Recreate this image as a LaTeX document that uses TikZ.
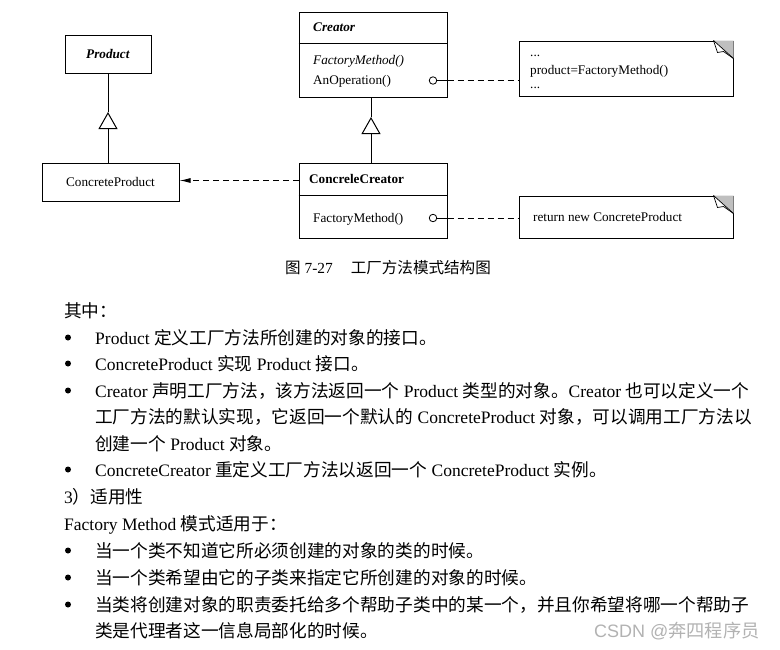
\documentclass[tikz,border=0pt]{standalone}
\usepackage{fontspec}
\setmainfont{Liberation Serif}
\newfontfamily\cjk[Scale=1.01]{Noto Sans CJK SC}
\newfontfamily\wmsans{Liberation Sans}
\newcommand\zh[1]{{\cjk #1}}
\usetikzlibrary{arrows.meta}
\tikzset{
  umlbox/.style={draw,line width=1pt,inner sep=0pt,font=\fontsize{13.2}{15}\selectfont},
  notebox/.style={draw,line width=1pt,inner sep=0pt,minimum width=214pt},
  umltext/.style={anchor=base west,inner sep=0pt,font=\fontsize{13.2}{15}\selectfont},
  bodytext/.style={anchor=base west,inner sep=0pt,font=\fontsize{17.5}{20}\selectfont},
  bulletdot/.style={circle,fill,inner sep=0pt,minimum size=6pt},
  inherit/.style={line width=1pt,-{Triangle[open,length=17pt,width=19pt,line width=1pt]}},
  depend/.style={line width=1pt,dash pattern=on 6pt off 4pt,-{Latex[length=11pt,width=5pt]}},
  notelink/.style={line width=1pt,dash pattern=on 6pt off 4pt},
  lollipop/.style={draw,circle,fill=white,line width=0.8pt,minimum size=7.5pt,inner sep=0pt},
}
\begin{document}
\begin{tikzpicture}[x=1pt,y=-1pt]
\useasboundingbox (0,0) rectangle (780,649);
% class boxes
\node[umlbox,minimum width=86pt,minimum height=38pt] (product) at (108,54) {\textbf{\textit{Product}}};
\node[umlbox,minimum width=137pt,minimum height=38pt] (cprod) at (110.5,182) {ConcreteProduct};
\node[umlbox,minimum width=148pt,minimum height=85pt] (creator) at (373,54.5) {};
\node[umlbox,minimum width=148pt,minimum height=75pt] (ccreator) at (373,200.5) {};
\draw[line width=1pt] (creator.north west) ++(0,32) -- ++(148,0);
\draw[line width=1pt] (ccreator.north west) ++(0,33) -- ++(148,0);
\node[umltext] (creatorname) at (313,31.5) {\textbf{\textit{Creator}}};
\node[umltext] (fmabs) at (313,64.5) {\textit{FactoryMethod()}};
\node[umltext] (anop) at (313,84.5) {AnOperation()};
\node[umltext] (ccname) at (309,183.5) {\textbf{ConcreleCreator}};
\node[umltext] (fmconc) at (313,222.5) {FactoryMethod()};
% inheritance
\coordinate (ptip) at (108,112);
\coordinate (ctip) at (371,117);
\draw[inherit] (ptip |- cprod.north) -- (ptip);
\draw[line width=1pt] (ptip) -- (ptip |- product.south);
\draw[inherit] (ctip |- ccreator.north) -- (ctip);
\draw[line width=1pt] (ctip) -- (ctip |- creator.south);
% dependency
\coordinate (dep) at (0,180.5);
\draw[depend] (ccreator.west |- dep) -- (cprod.east |- dep);
% notes
\node[notebox,minimum height=55pt] (note1) at (626,68.5) {};
\node[notebox,minimum height=42pt] (note2) at (626,217) {};
\foreach \nn in {note1,note2}{
  \fill[black!25] (\nn.north east) ++(-20,0) -- (\nn.north east) -- ++(0,18) -- cycle;
  \draw[line width=0.7pt] (\nn.north east) ++(-20,0) -- ++(20,18);
  \draw[line width=0.7pt] (\nn.north east) ++(-20,0) -- ++(4,12) -- ++(6,-1) -- ++(10,7);
}
\node[umltext] (n1a) at (530,56) {...};
\node[umltext] (n1b) at (530,74) {product=FactoryMethod()};
\node[umltext] (n1c) at (530,88.5) {...};
\node[umltext] (n2a) at (533,221.5) {return new ConcreteProduct};
% note links
\node[lollipop] (dot1) at (433,80.5) {};
\node[lollipop] (dot2) at (433,218) {};
\draw[line width=1pt] (dot1.east) -- (creator.east |- dot1);
\draw[notelink] (creator.east |- dot1) -- (note1.west |- dot1);
\draw[line width=1pt] (dot2.east) -- (ccreator.east |- dot2);
\draw[notelink] (ccreator.east |- dot2) -- (note2.west |- dot2);
% caption
\node[anchor=base west,inner sep=0pt,font=\fontsize{15.4}{18}\selectfont] (caption) at (285,273)
  {\zh{图} 7-27\hspace{18pt}\zh{工厂方法模式结构图}};
% body text
\foreach \lx/\ly/\ltext [count=\i] in {
  64/317/{\zh{其中：}},
  95/344/{Product \zh{定义工厂方法所创建的对象的接口。}},
  95/370/{ConcreteProduct \zh{实现} Product \zh{接口。}},
  95/397/{Creator \zh{声明工厂方法，该方法返回一个} Product \zh{类型的对象。}Creator \zh{也可以定义一个}},
  95/423/{\zh{工厂方法的默认实现，它返回一个默认的} ConcreteProduct \zh{对象，可以调用工厂方法以}},
  95/450/{\zh{创建一个} Product \zh{对象。}},
  95/476/{ConcreteCreator \zh{重定义工厂方法以返回一个} ConcreteProduct \zh{实例。}},
  64/503/{3\zh{）适用性}},
  64/530/{Factory Method \zh{模式适用于：}},
  95/557/{\zh{当一个类不知道它所必须创建的对象的类的时候。}},
  95/584/{\zh{当一个类希望由它的子类来指定它所创建的对象的时候。}},
  95/611/{\zh{当类将创建对象的职责委托给多个帮助子类中的某一个，并且你希望将哪一个帮助子}},
  95/637/{\zh{类是代理者这一信息局部化的时候。}}}{
  \node[bodytext] (line\i) at (\lx,\ly) {\ltext};
}
\foreach \ly in {344,370,397,476,557,584,611}{
  \node[bulletdot] (bullet\ly) at (68,\ly-6.5) {};
}
% watermark
\node[anchor=base west,inner sep=0pt,text=black!30,font=\fontsize{18}{20}\selectfont] (watermark) at (594,637)
  {\wmsans CSDN @\zh{奔四程序员}};
\end{tikzpicture}
\end{document}
